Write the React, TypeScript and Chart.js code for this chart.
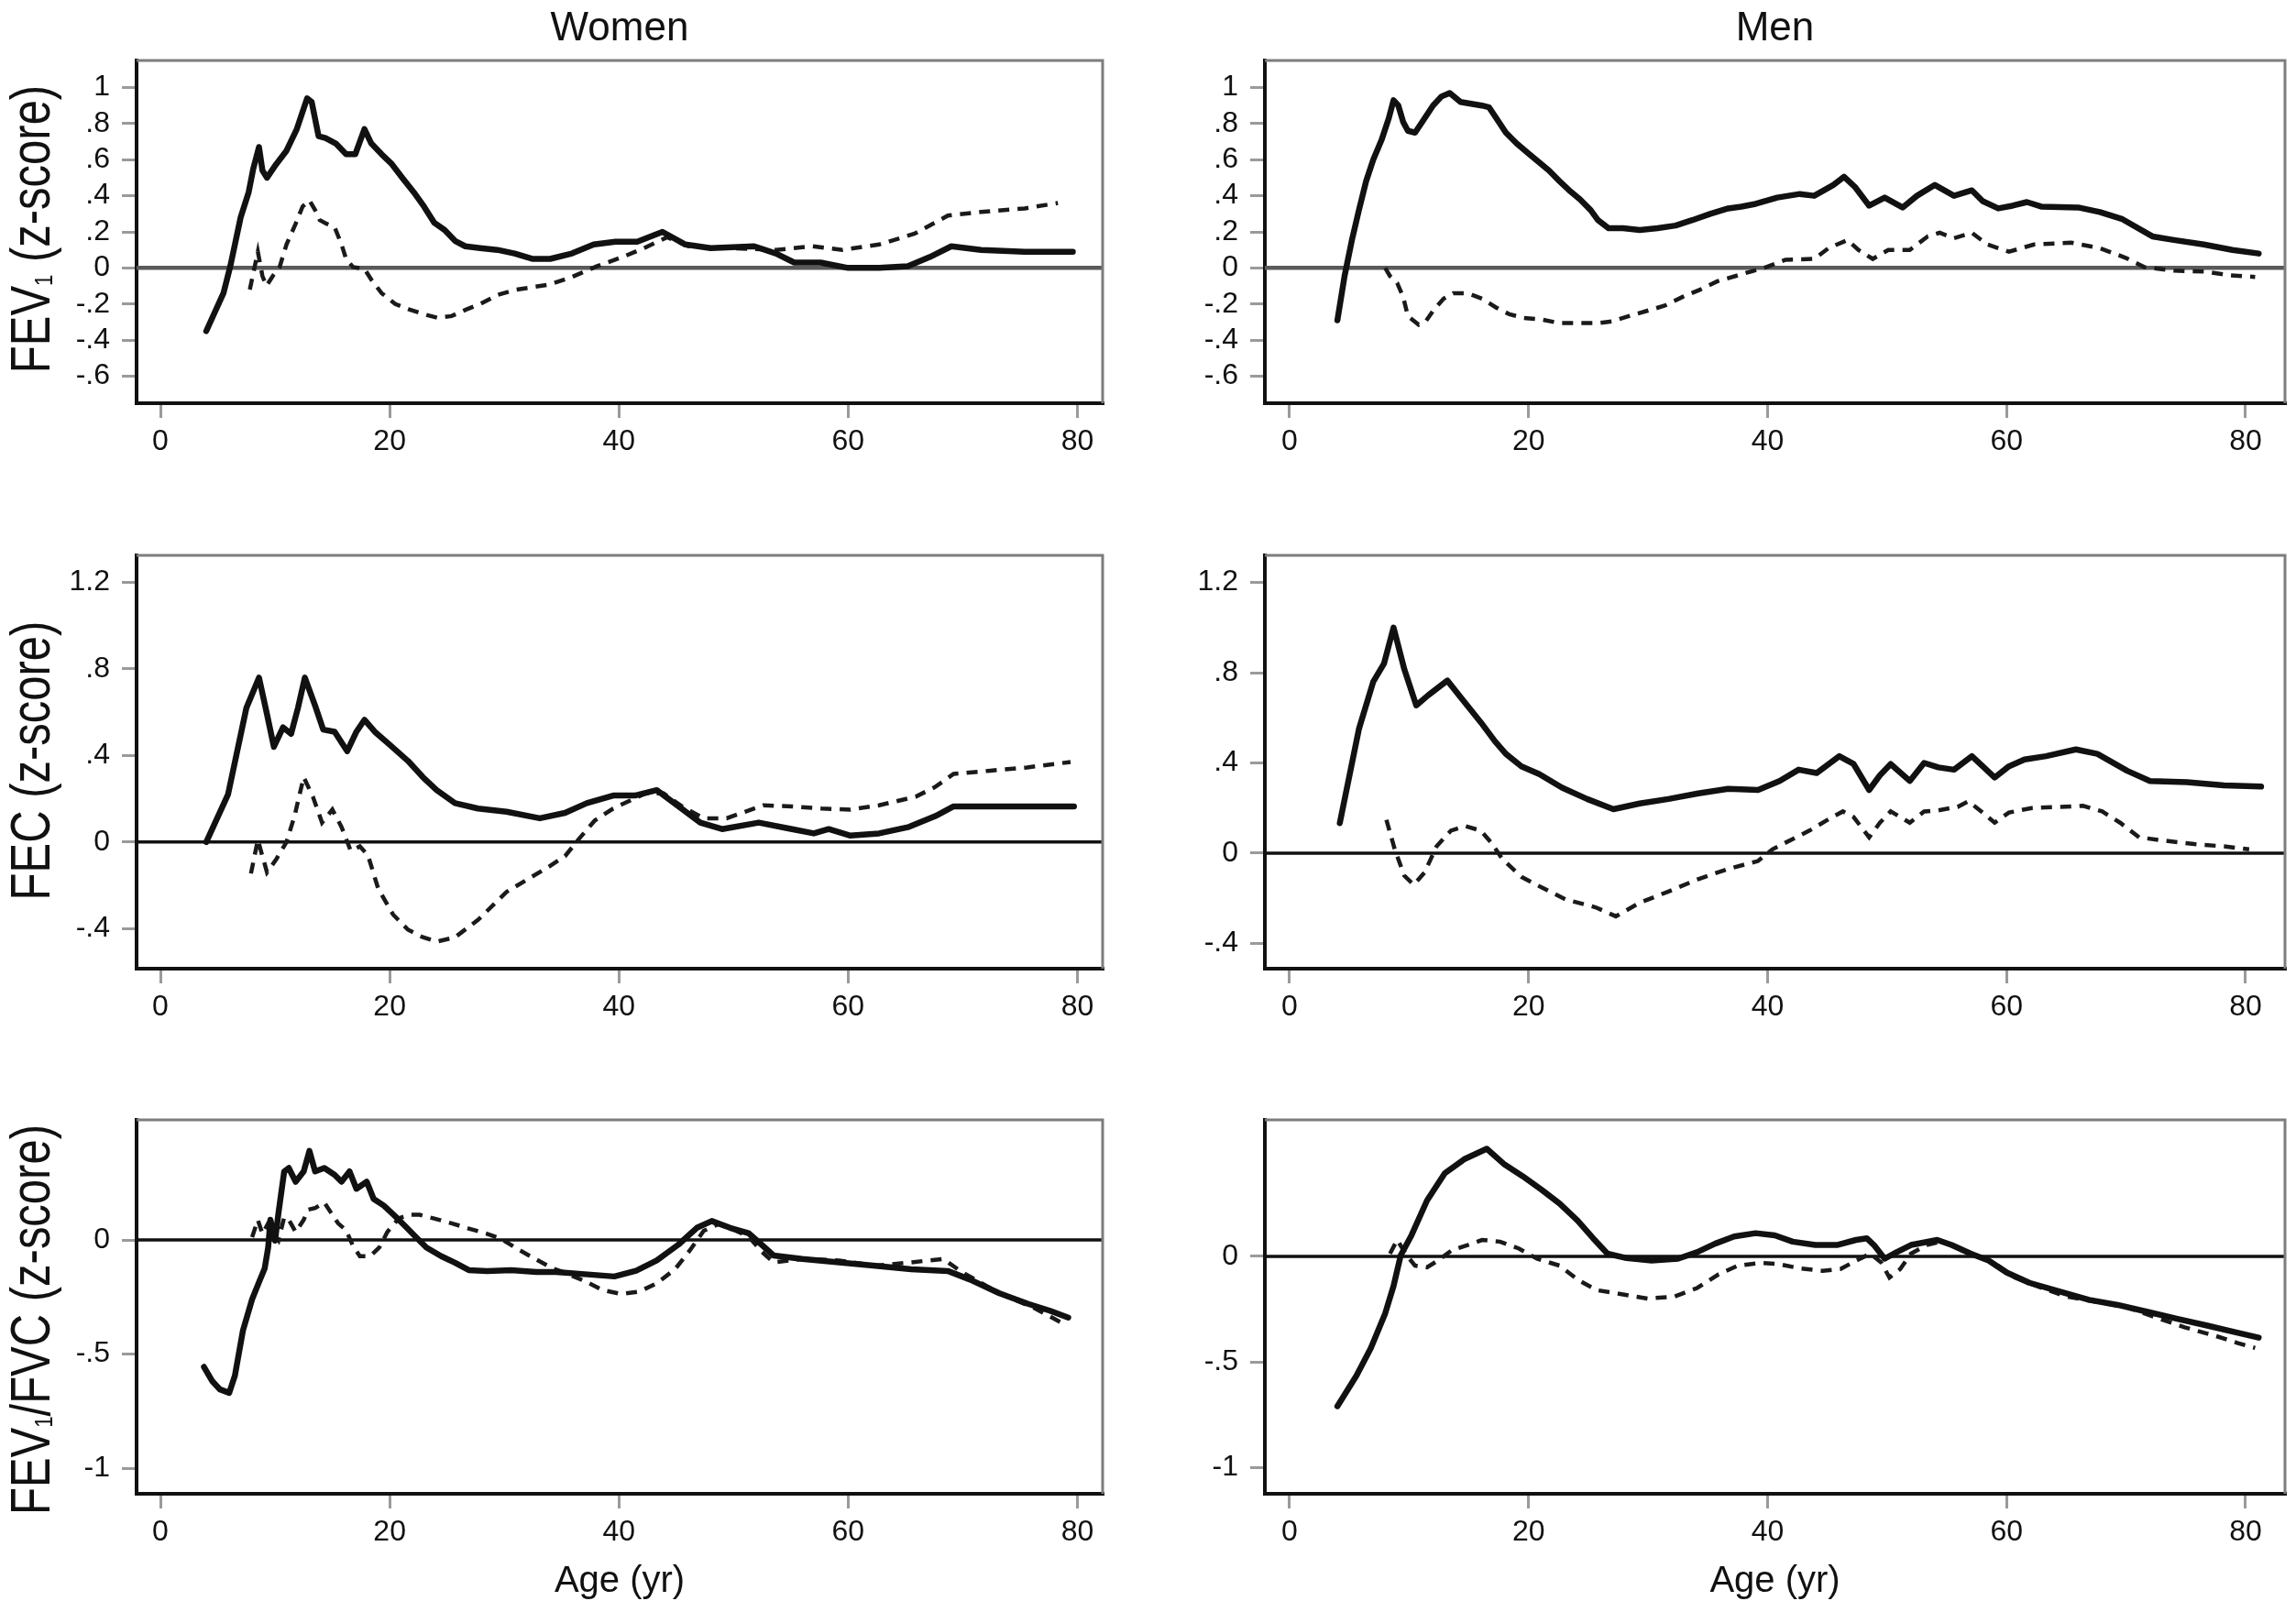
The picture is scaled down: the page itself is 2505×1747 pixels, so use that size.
import { useEffect, useRef } from "react";
import { Chart, registerables } from "chart.js";

Chart.register(...registerables);

const FONT = "'Liberation Sans', Arial, sans-serif";

const AGE_TICKS = [0, 20, 40, 60, 80];
const FEV1_TICKS = [-0.6, -0.4, -0.2, 0, 0.2, 0.4, 0.6, 0.8, 1];
const FVC_TICKS = [-0.4, 0, 0.4, 0.8, 1.2];
const RATIO_TICKS = [-1, -0.5, 0];

// [age (yr), z-score]
const W_FEV1_SOLID = [[4.0,-0.35],[5.5,-0.14],[6.1,0.01],[7.0,0.28],[7.7,0.42],[8.1,0.55],[8.6,0.67],[8.9,0.54],[9.3,0.5],[10.1,0.575],[11.0,0.65],[11.9,0.77],[12.8,0.94],[13.2,0.92],[13.8,0.73],[14.4,0.72],[15.3,0.69],[16.2,0.63],[17.0,0.63],[17.8,0.77],[18.4,0.69],[19.3,0.63],[20.2,0.575],[21.1,0.5],[22.1,0.42],[23.0,0.34],[23.9,0.25],[24.8,0.21],[25.7,0.15],[26.6,0.12],[27.9,0.11],[29.4,0.1],[30.9,0.08],[32.5,0.05],[34.0,0.05],[35.9,0.08],[37.8,0.13],[39.7,0.145],[41.6,0.145],[43.8,0.2],[45.8,0.13],[48.0,0.11],[51.8,0.12],[53.7,0.08],[55.3,0.03],[57.6,0.03],[60.0,0.0],[62.7,0.0],[65.2,0.01],[67.1,0.06],[69.0,0.12],[71.6,0.1],[75.4,0.09],[79.6,0.09]];
const W_FEV1_DASHED = [[7.8,-0.12],[8.5,0.09],[8.9,-0.045],[9.25,-0.1],[9.8,-0.045],[10.4,0.005],[11.0,0.13],[11.8,0.245],[12.4,0.34],[13.0,0.375],[13.5,0.32],[13.9,0.265],[14.5,0.245],[15.2,0.226],[15.8,0.13],[16.2,0.05],[16.8,0.005],[17.8,-0.005],[18.4,-0.065],[19.3,-0.14],[20.5,-0.2],[21.7,-0.23],[23.0,-0.257],[24.2,-0.277],[25.4,-0.267],[26.7,-0.23],[27.9,-0.2],[29.4,-0.15],[30.9,-0.122],[32.5,-0.106],[33.9,-0.093],[35.9,-0.05],[38.1,0.01],[40.3,0.06],[42.2,0.11],[44.2,0.17],[46.1,0.12],[49.9,0.11],[53.7,0.1],[56.9,0.12],[59.5,0.1],[62.7,0.13],[65.8,0.19],[68.7,0.29],[71.6,0.31],[75.4,0.33],[78.3,0.36]];

const M_FEV1_SOLID = [[4.0,-0.29],[4.6,-0.045],[5.2,0.15],[5.8,0.32],[6.4,0.48],[7.0,0.6],[7.7,0.71],[8.3,0.83],[8.7,0.93],[9.1,0.9],[9.5,0.81],[9.9,0.76],[10.5,0.75],[11.1,0.81],[12.0,0.9],[12.7,0.95],[13.4,0.97],[14.3,0.92],[15.2,0.91],[16.1,0.9],[16.7,0.89],[17.3,0.83],[18.1,0.75],[19.0,0.69],[19.9,0.64],[20.8,0.59],[21.7,0.54],[22.6,0.48],[23.4,0.43],[24.3,0.38],[25.2,0.32],[25.8,0.265],[26.7,0.22],[27.9,0.22],[29.3,0.21],[30.8,0.22],[32.3,0.235],[33.7,0.265],[35.2,0.3],[36.7,0.33],[37.8,0.34],[39.0,0.355],[40.8,0.39],[42.7,0.41],[43.9,0.4],[45.5,0.46],[46.4,0.505],[47.3,0.45],[48.5,0.345],[49.8,0.39],[51.3,0.335],[52.5,0.4],[54.0,0.46],[55.6,0.4],[57.1,0.43],[58.0,0.37],[59.3,0.33],[60.5,0.345],[61.7,0.365],[62.9,0.34],[66.0,0.335],[67.8,0.31],[69.7,0.27],[72.2,0.175],[74.0,0.155],[76.5,0.13],[78.9,0.1],[81.1,0.08]];
const M_FEV1_DASHED = [[8.0,0],[8.4,-0.045],[9.0,-0.083],[9.5,-0.16],[9.9,-0.267],[10.8,-0.315],[11.4,-0.296],[12.0,-0.238],[12.9,-0.17],[13.7,-0.14],[14.9,-0.14],[16.1,-0.17],[17.3,-0.22],[18.4,-0.257],[19.6,-0.277],[21.1,-0.286],[22.6,-0.306],[24.0,-0.306],[25.8,-0.306],[27.0,-0.296],[28.4,-0.267],[29.9,-0.238],[31.4,-0.209],[32.9,-0.16],[34.3,-0.122],[35.8,-0.074],[37.3,-0.045],[38.6,-0.02],[39.9,0.005],[41.5,0.045],[43.9,0.05],[45.1,0.11],[46.7,0.155],[47.6,0.1],[48.8,0.05],[50.1,0.1],[51.9,0.1],[53.4,0.175],[54.4,0.195],[55.6,0.165],[57.1,0.195],[58.4,0.13],[60.2,0.09],[62.3,0.13],[65.4,0.14],[67.8,0.11],[70.0,0.055],[71.5,0.005],[74.0,-0.015],[76.5,-0.02],[78.6,-0.04],[80.8,-0.05]];

const W_FVC_SOLID = [[4.0,0],[5.9,0.22],[7.5,0.62],[8.6,0.76],[9.3,0.59],[9.9,0.44],[10.7,0.53],[11.4,0.5],[12.0,0.62],[12.6,0.76],[13.5,0.63],[14.2,0.52],[15.2,0.51],[16.3,0.42],[17.1,0.51],[17.8,0.565],[18.7,0.51],[20.0,0.45],[21.6,0.375],[22.9,0.3],[24.1,0.24],[25.7,0.18],[27.7,0.155],[30.2,0.14],[33.1,0.11],[35.3,0.135],[37.2,0.18],[39.5,0.215],[41.4,0.215],[43.3,0.24],[45.2,0.165],[47.1,0.09],[49.0,0.06],[52.2,0.09],[55.1,0.06],[57.0,0.04],[58.3,0.06],[60.2,0.03],[62.7,0.04],[65.3,0.07],[67.6,0.12],[69.2,0.165],[72.4,0.165],[79.7,0.165]];
const W_FVC_DASHED = [[7.9,-0.145],[8.5,0.01],[9.3,-0.14],[10.1,-0.08],[11.0,0],[11.7,0.12],[12.5,0.3],[13.3,0.21],[14.1,0.09],[15.0,0.15],[15.8,0.07],[16.6,-0.04],[17.4,-0.02],[18.1,-0.06],[19.0,-0.215],[20.3,-0.335],[21.6,-0.405],[22.9,-0.44],[24.1,-0.46],[25.7,-0.44],[27.7,-0.36],[30.2,-0.23],[32.1,-0.17],[34.0,-0.11],[35.3,-0.065],[36.6,0.02],[37.9,0.1],[39.5,0.155],[41.1,0.195],[42.3,0.225],[43.9,0.225],[45.5,0.165],[47.4,0.11],[49.4,0.11],[51.0,0.14],[52.6,0.17],[55.1,0.165],[57.7,0.155],[60.2,0.15],[62.7,0.17],[65.9,0.21],[67.6,0.255],[69.2,0.315],[72.4,0.33],[75.6,0.345],[79.4,0.37]];

const M_FVC_SOLID = [[4.2,0.133],[5.8,0.55],[7.0,0.76],[7.9,0.84],[8.7,1.0],[9.6,0.815],[10.6,0.655],[11.6,0.7],[13.2,0.765],[14.4,0.685],[16.0,0.58],[17.2,0.495],[18.1,0.44],[19.4,0.385],[20.9,0.35],[22.8,0.29],[24.9,0.24],[27.1,0.195],[29.3,0.22],[31.7,0.24],[34.2,0.265],[36.7,0.285],[39.2,0.28],[41.0,0.32],[42.6,0.37],[44.1,0.355],[46.0,0.43],[47.2,0.395],[48.5,0.28],[49.4,0.345],[50.3,0.395],[51.9,0.32],[53.1,0.4],[54.3,0.38],[55.6,0.37],[57.1,0.43],[58.0,0.385],[59.0,0.335],[60.2,0.385],[61.5,0.415],[63.3,0.43],[65.8,0.46],[67.6,0.44],[70.1,0.365],[72.0,0.32],[75.1,0.315],[78.2,0.3],[81.3,0.295]];
const M_FVC_DASHED = [[8.1,0.148],[8.8,0.017],[9.6,-0.1],[10.4,-0.14],[11.3,-0.085],[12.3,0.03],[13.5,0.1],[14.7,0.12],[16.0,0.1],[16.9,0.045],[17.8,-0.026],[19.4,-0.105],[21.2,-0.155],[23.1,-0.205],[25.6,-0.24],[27.3,-0.28],[29.3,-0.22],[31.7,-0.17],[34.2,-0.115],[36.7,-0.07],[39.2,-0.035],[40.4,0.017],[42.0,0.06],[43.5,0.1],[45.1,0.15],[46.3,0.185],[47.2,0.16],[48.5,0.07],[49.4,0.135],[50.3,0.185],[51.9,0.135],[53.1,0.185],[54.3,0.19],[55.9,0.205],[56.8,0.23],[58.0,0.18],[59.0,0.135],[60.2,0.18],[62.1,0.2],[64.5,0.205],[66.4,0.21],[68.0,0.185],[69.5,0.135],[71.1,0.07],[73.3,0.055],[75.7,0.04],[78.2,0.03],[80.3,0.017]];

const W_RATIO_SOLID = [[3.8,-0.556],[4.5,-0.617],[5.2,-0.655],[6.0,-0.67],[6.5,-0.594],[7.2,-0.397],[8.0,-0.26],[8.6,-0.185],[9.1,-0.124],[9.4,-0.033],[9.6,0.088],[10.0,-0.003],[10.3,0.118],[10.8,0.3],[11.2,0.315],[11.8,0.255],[12.5,0.3],[13.0,0.39],[13.5,0.3],[14.3,0.315],[15.2,0.285],[15.8,0.255],[16.5,0.3],[17.1,0.224],[18.0,0.255],[18.6,0.18],[19.5,0.15],[20.5,0.103],[21.4,0.058],[22.3,0.012],[23.2,-0.033],[24.5,-0.071],[25.7,-0.1],[26.9,-0.132],[28.5,-0.136],[30.6,-0.132],[32.8,-0.14],[34.5,-0.14],[37.0,-0.15],[39.6,-0.16],[41.5,-0.135],[43.3,-0.09],[45.2,-0.02],[46.8,0.053],[48.1,0.083],[49.7,0.053],[51.3,0.03],[52.5,-0.023],[53.5,-0.068],[56.0,-0.083],[59.2,-0.098],[62.4,-0.113],[65.5,-0.128],[68.7,-0.136],[70.6,-0.173],[73.2,-0.234],[75.7,-0.28],[77.6,-0.31],[79.2,-0.34]];
const W_RATIO_DASHED = [[8.0,0.012],[8.5,0.088],[8.9,0.027],[9.4,0.073],[9.8,0.027],[10.3,-0.003],[10.8,0.1],[11.2,0.088],[11.8,0.035],[12.5,0.088],[12.9,0.133],[13.5,0.14],[14.3,0.164],[14.9,0.118],[15.5,0.073],[16.2,0.042],[16.8,-0.026],[17.4,-0.071],[18.3,-0.071],[19.1,-0.033],[19.8,0.035],[20.8,0.095],[21.7,0.11],[22.6,0.11],[23.8,0.095],[25.4,0.073],[26.9,0.05],[28.5,0.027],[29.7,0.005],[31.2,-0.041],[32.8,-0.086],[34.2,-0.124],[35.1,-0.14],[37.0,-0.18],[38.6,-0.22],[40.2,-0.237],[41.8,-0.226],[43.3,-0.19],[44.9,-0.128],[46.2,-0.045],[47.4,0.04],[48.7,0.07],[50.0,0.045],[51.3,0.015],[52.5,-0.053],[53.5,-0.098],[56.0,-0.083],[59.2,-0.09],[62.4,-0.113],[65.5,-0.098],[68.3,-0.083],[69.9,-0.14],[73.2,-0.234],[76.3,-0.3],[78.9,-0.37]];

const M_RATIO_SOLID = [[4.0,-0.71],[5.6,-0.565],[6.8,-0.434],[8.0,-0.27],[8.7,-0.14],[9.3,0.005],[10.2,0.1],[11.5,0.265],[13.0,0.395],[14.6,0.46],[16.5,0.51],[18.0,0.435],[19.5,0.38],[21.1,0.315],[22.6,0.25],[24.1,0.17],[25.4,0.086],[26.6,0.013],[28.2,-0.008],[30.3,-0.02],[32.5,-0.011],[34.1,0.02],[35.6,0.06],[37.2,0.094],[39.0,0.11],[40.6,0.1],[42.1,0.07],[44.0,0.054],[45.8,0.054],[47.4,0.078],[48.3,0.086],[48.9,0.054],[49.8,-0.011],[50.8,0.02],[52.0,0.054],[54.2,0.078],[55.4,0.054],[57.0,0.013],[58.5,-0.02],[60.0,-0.076],[61.9,-0.125],[64.4,-0.166],[66.9,-0.206],[69.3,-0.23],[71.8,-0.263],[74.3,-0.296],[76.8,-0.328],[79.2,-0.36],[81.1,-0.385]];
const M_RATIO_DASHED = [[8.4,0.013],[9.0,0.078],[9.8,0.005],[10.5,-0.044],[11.5,-0.052],[12.4,-0.02],[13.6,0.03],[14.9,0.054],[16.1,0.078],[17.6,0.07],[19.2,0.037],[20.7,-0.011],[22.6,-0.044],[24.1,-0.11],[25.7,-0.16],[27.9,-0.18],[30.0,-0.2],[32.2,-0.19],[34.1,-0.15],[35.9,-0.085],[37.5,-0.044],[39.3,-0.031],[40.9,-0.036],[42.7,-0.057],[44.6,-0.068],[46.1,-0.06],[47.4,-0.02],[48.6,0.013],[49.5,-0.028],[50.2,-0.1],[51.1,-0.06],[52.0,0.013],[53.3,0.054],[54.5,0.07],[55.7,0.046],[57.5,0.005],[59.1,-0.036],[60.7,-0.1],[62.5,-0.14],[65.0,-0.19],[67.5,-0.215],[70.0,-0.24],[72.4,-0.288],[74.9,-0.336],[77.5,-0.377],[79.3,-0.41],[80.8,-0.434]];

// page geometry (px)
const COLS = [
  { left: 0, width: 1230, axisW: 149, padRight: 27, xMin: -2.08, xMax: 82.2, title: "Women" },
  { left: 1240, width: 1265, axisW: 140, padRight: 12, xMin: -2.07, xMax: 83.3, title: "Men" },
];
const ROWS = [
  { top: 0, height: 520, padTop: 66, axisH: 80, ticks: FEV1_TICKS, yTitle: [["FEV"], ["1", 1], [" (z-score)"]], yTitleY: 250, zero: "#5a5a5a", zeroW: 4.5 },
  { top: 520, height: 620, padTop: 86, axisH: 83, ticks: FVC_TICKS, yTitle: [["FEC (z-score)"]], yTitleY: 310, zero: "#111", zeroW: 3.5 },
  { top: 1140, height: 607, padTop: 82, axisH: 117, ticks: RATIO_TICKS, yTitle: [["FEV"], ["1", 1], ["/FVC (z-score)"]], yTitleY: 300, zero: "#111", zeroW: 3.5 },
];
const Y_RANGES = [
  [[-0.75, 1.15], [-0.75, 1.15]],
  [[-0.585, 1.325], [-0.512, 1.32]],
  [[-1.112, 0.526], [-1.125, 0.647]],
];
const SERIES = [
  [[W_FEV1_SOLID, W_FEV1_DASHED], [M_FEV1_SOLID, M_FEV1_DASHED]],
  [[W_FVC_SOLID, W_FVC_DASHED], [M_FVC_SOLID, M_FVC_DASHED]],
  [[W_RATIO_SOLID, W_RATIO_DASHED], [M_RATIO_SOLID, M_RATIO_DASHED]],
];

const fmt = (v: number) => String(Math.round(v * 10) / 10).replace(/^(-?)0\./, "$1.");

function drawYTitle(ctx: CanvasRenderingContext2D, parts: any[], x: number, y: number) {
  ctx.save();
  ctx.translate(x, y);
  ctx.rotate(-Math.PI / 2);
  ctx.scale(0.79, 1);
  ctx.fillStyle = "#111";
  ctx.textAlign = "left";
  ctx.textBaseline = "alphabetic";
  const big = `62px ${FONT}`;
  const small = `28px ${FONT}`;
  const widths = parts.map((p) => {
    ctx.font = p[1] ? small : big;
    return ctx.measureText(p[0]).width;
  });
  let cx = -widths.reduce((a, b) => a + b, 0) / 2;
  parts.forEach((p, i) => {
    ctx.font = p[1] ? small : big;
    ctx.fillText(p[0], cx, p[1] ? 3 : 0);
    cx += widths[i];
  });
  ctx.restore();
}

const decor = {
  id: "decor",
  beforeDatasetsDraw(chart: any, _a: any, o: any) {
    const { ctx, chartArea: a, scales } = chart;
    const y0 = scales.y.getPixelForValue(0);
    ctx.save();
    ctx.strokeStyle = o.zero;
    ctx.lineWidth = o.zeroW;
    ctx.beginPath();
    ctx.moveTo(a.left, y0);
    ctx.lineTo(a.right, y0);
    ctx.stroke();
    ctx.restore();
  },
  afterDraw(chart: any, _a: any, o: any) {
    const { ctx, chartArea: a } = chart;
    ctx.save();
    ctx.strokeStyle = "#7d7d7d";
    ctx.lineWidth = 3;
    ctx.beginPath();
    ctx.moveTo(a.left, a.top);
    ctx.lineTo(a.right, a.top);
    ctx.lineTo(a.right, a.bottom);
    ctx.stroke();
    ctx.fillStyle = "#111";
    ctx.textAlign = "center";
    ctx.textBaseline = "alphabetic";
    const mid = (a.left + a.right) / 2;
    if (o.top) {
      ctx.font = `44px ${FONT}`;
      ctx.fillText(o.top, mid, 44);
    }
    if (o.bottom) {
      ctx.font = `40px ${FONT}`;
      ctx.fillText(o.bottom, mid, 597);
    }
    if (o.yTitle) drawYTitle(ctx, o.yTitle, 54, o.yTitleY);
    ctx.restore();
  },
};

function Panel({ r, c }: { r: number; c: number }) {
  const ref = useRef<HTMLCanvasElement>(null);
  const row = ROWS[r];
  const col = COLS[c];

  useEffect(() => {
    if (!ref.current) return;
    const [solid, dashed] = SERIES[r][c];
    const [yMin, yMax] = Y_RANGES[r][c];
    const grid = { drawOnChartArea: false, drawTicks: true, tickLength: 16, color: "#9a9a9a", lineWidth: 3 };
    const border = { display: true, color: "#111", width: 4 };
    const chart = new Chart(ref.current, {
      type: "line",
      data: {
        datasets: [
          { label: "solid", data: solid.map(([x, y]) => ({ x, y })), borderColor: "#111", borderWidth: 6.5, pointRadius: 0, tension: 0, borderJoinStyle: "round", borderCapStyle: "round" },
          { label: "dashed", data: dashed.map(([x, y]) => ({ x, y })), borderColor: "#1a1a1a", borderWidth: 4.5, borderDash: [12, 9], pointRadius: 0, tension: 0 },
        ],
      },
      options: {
        animation: false,
        responsive: false,
        devicePixelRatio: 1,
        layout: { padding: { top: row.padTop, right: col.padRight, left: 0, bottom: 0 } },
        plugins: {
          legend: { display: false },
          tooltip: { enabled: false },
          decor: {
            zero: row.zero,
            zeroW: row.zeroW,
            top: r === 0 ? col.title : null,
            bottom: r === 2 ? "Age (yr)" : null,
            yTitle: c === 0 ? row.yTitle : null,
            yTitleY: row.yTitleY,
          },
        } as any,
        scales: {
          x: {
            type: "linear",
            min: col.xMin,
            max: col.xMax,
            afterFit: (s: any) => { s.height = row.axisH; },
            afterBuildTicks: (s: any) => { s.ticks = AGE_TICKS.map((value) => ({ value })); },
            grid,
            border,
            ticks: { font: { family: FONT, size: 32 }, color: "#111", padding: 7, maxRotation: 0, autoSkip: false, callback: (v: any) => String(v) },
          },
          y: {
            type: "linear",
            min: yMin,
            max: yMax,
            afterFit: (s: any) => { s.width = col.axisW; },
            afterBuildTicks: (s: any) => { s.ticks = row.ticks.map((value) => ({ value })); },
            grid,
            border,
            ticks: { font: { family: FONT, size: 32 }, color: "#111", padding: 13, autoSkip: false, callback: (v: any) => fmt(Number(v)) },
          },
        },
      },
      plugins: [decor],
    });
    return () => chart.destroy();
  }, [r, c]);

  return (
    <canvas
      ref={ref}
      width={col.width}
      height={row.height}
      style={{ position: "absolute", left: col.left, top: row.top, width: col.width, height: row.height }}
    />
  );
}

export default function App() {
  return (
    <div style={{ position: "absolute", left: 0, top: 0, width: 2505, height: 1747, background: "#fff", overflow: "hidden" }}>
      {ROWS.map((_, r) => COLS.map((_, c) => <Panel key={`${r}-${c}`} r={r} c={c} />))}
    </div>
  );
}
